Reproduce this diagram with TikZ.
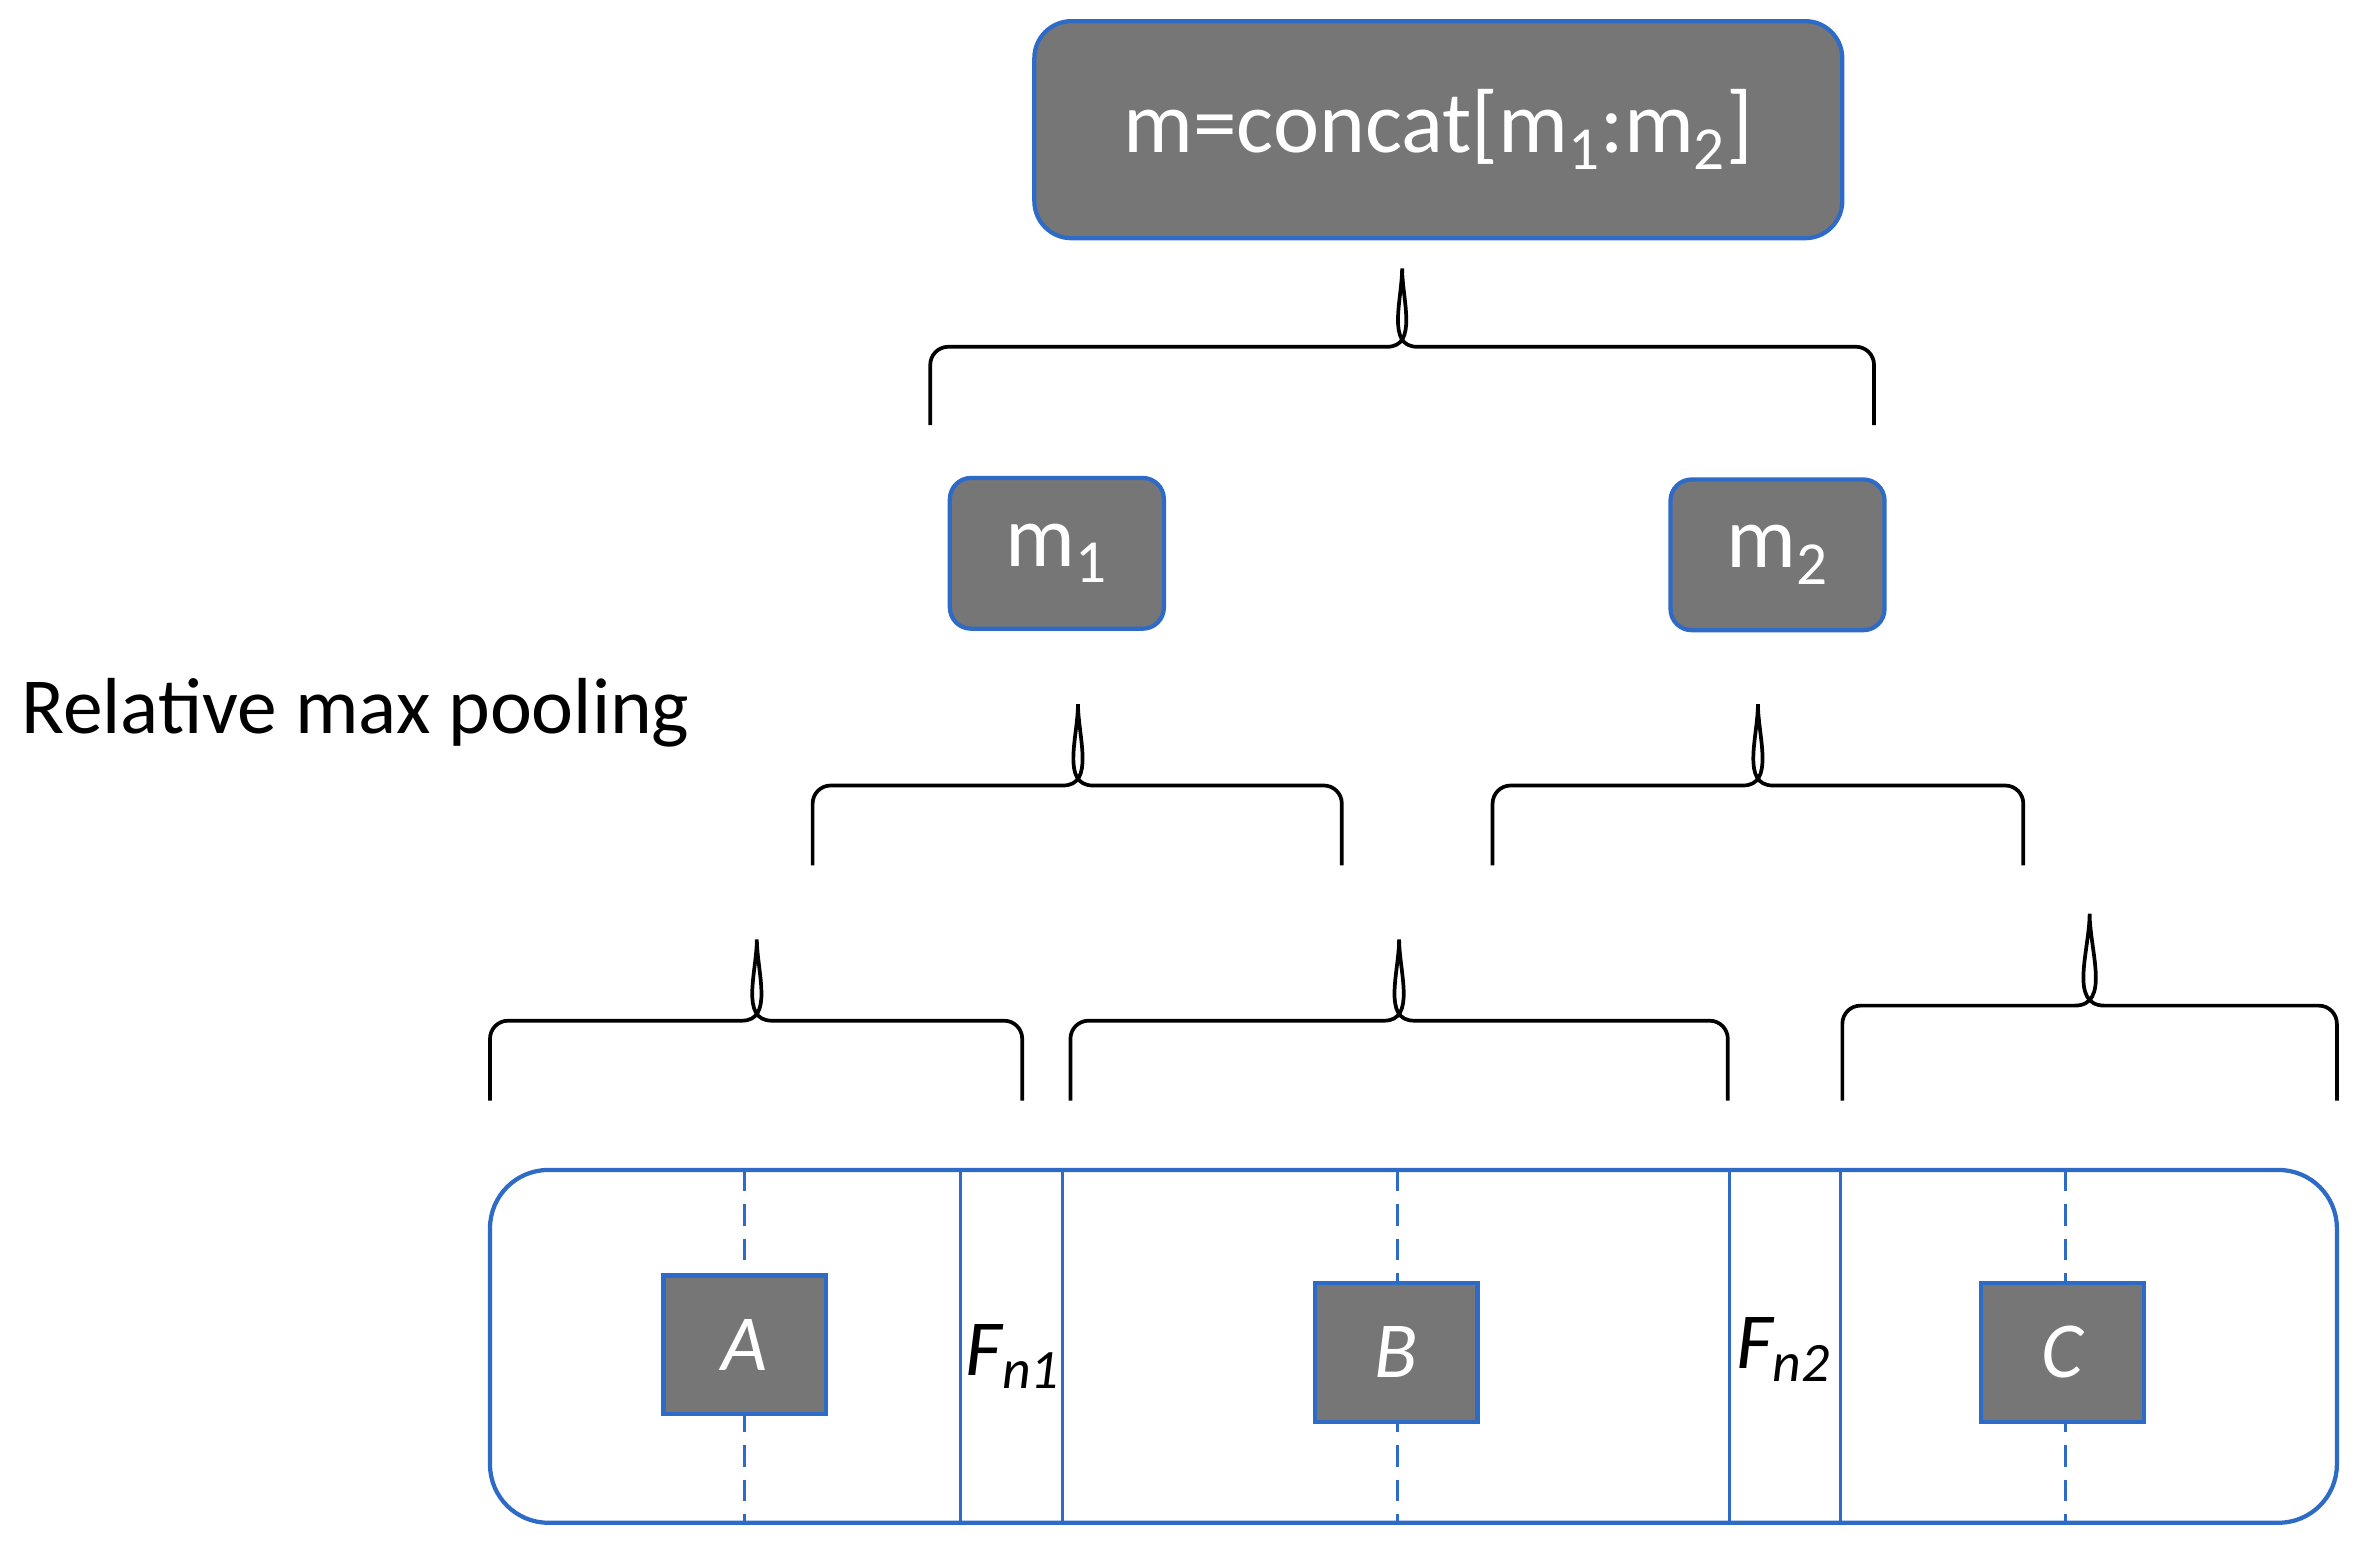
\documentclass[tikz,border=0pt]{standalone}
\usepackage{fontspec}
\setmainfont{Carlito}
\definecolor{boxgray}{HTML}{767676}
\definecolor{edgeblue}{HTML}{2E6BC6}
\newcommand{\brc}[6]{% x1, x2, xpeak, ytop, ybottom, ypeak
  \draw[brace] (#1,#5) -- (#1,#4+12) to[out=90,in=180] (#1+12,#4) -- (#3-10,#4)
    to[out=0,in=-90] (#3,#6) to[out=-90,in=180] (#3+10,#4) -- (#2-12,#4)
    to[out=0,in=90] (#2,#4+12) -- (#2,#5);}
\tikzset{
  brace/.style={line width=1.4pt,black},
  gbox/.style={draw=edgeblue,line width=1.6pt,fill=boxgray,text=white,rounded corners=8pt,inner sep=0pt},
  sbox/.style={draw=edgeblue,line width=1.6pt,fill=boxgray,text=white,inner sep=0pt,font=\fontsize{30}{30}\selectfont\itshape},
  sep/.style={edgeblue,line width=1.1pt},
  mid/.style={edgeblue,line width=1.1pt,dashed,dash pattern=on 8pt off 5pt}
}
\begin{document}
\begin{tikzpicture}[x=0.02cm,y=-0.02cm]
\useasboundingbox (0,0) rectangle (1568,1029);
\node[gbox,minimum width=10.72cm,minimum height=2.88cm,rounded corners=14pt,font=\fontsize{33}{33}\selectfont] (top) at (954,86) {m=concat[m\textsubscript{1}:m\textsubscript{2}]};
\node[gbox,minimum width=2.84cm,minimum height=2cm,font=\fontsize{33}{33}\selectfont] (m1) at (701,367) {m\textsubscript{1}};
\node[gbox,minimum width=2.84cm,minimum height=2cm,font=\fontsize{33}{33}\selectfont] (m2) at (1179,368) {m\textsubscript{2}};
\node[anchor=west,font=\fontsize{30}{30}\selectfont] (rmp) at (8,473) {Relative max pooling};
% braces
\brc{617}{1243}{930}{230}{282}{178}
\brc{539}{890}{715}{521}{574}{467}
\brc{990}{1342}{1166}{521}{574}{467}
\brc{325}{678}{502}{677}{730}{623}
\brc{710}{1146}{928}{677}{730}{623}
\brc{1222}{1550}{1386}{667}{730}{606}
% sequence
\draw[edgeblue,line width=1.6pt,rounded corners=22pt] (325,776) rectangle (1550,1010);
\foreach \x in {637,705,1147,1221} \draw[sep] (\x,776) -- (\x,1010);
\foreach \x in {494,927,1370} \draw[mid] (\x,776) -- (\x,1010);
\node[sbox,minimum width=2.16cm,minimum height=1.84cm] (a) at (494,892) {A};
\node[sbox,minimum width=2.16cm,minimum height=1.84cm] (b) at (926,897) {B};
\node[sbox,minimum width=2.16cm,minimum height=1.84cm] (c) at (1368,897) {C};
\node[font=\fontsize{30}{30}\selectfont\itshape] (fn1) at (672,900) {F\textsubscript{n1}};
\node[font=\fontsize{30}{30}\selectfont\itshape] (fn2) at (1183,895) {F\textsubscript{n2}};
\end{tikzpicture}
\end{document}
